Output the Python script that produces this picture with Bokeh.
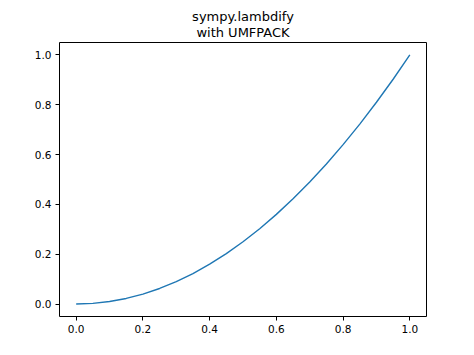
from bokeh.plotting import figure
from bokeh.models import Range1d, FixedTicker, PrintfTickFormatter, Title
from bokeh.embed import file_html
from bokeh.resources import INLINE

title_line1 = "sympy.lambdify"
title_line2 = "with UMFPACK"

x_values = [0.00, 0.05, 0.10, 0.15, 0.20, 0.25, 0.30, 0.35, 0.40, 0.45, 0.50,
            0.55, 0.60, 0.65, 0.70, 0.75, 0.80, 0.85, 0.90, 0.95, 1.00]
y_values = [0.0000, 0.0025, 0.0100, 0.0225, 0.0400, 0.0625, 0.0900, 0.1225, 0.1600, 0.2025, 0.2500,
            0.3025, 0.3600, 0.4225, 0.4900, 0.5625, 0.6400, 0.7225, 0.8100, 0.9025, 1.0000]
tick_values = [0.0, 0.2, 0.4, 0.6, 0.8, 1.0]

FONT = "DejaVu Sans"

p = figure(
    width=474, height=355,
    output_backend="svg", toolbar_location=None,
    x_range=Range1d(-0.05, 1.05), y_range=Range1d(-0.05, 1.05),
    title=None,
    min_border_left=59, min_border_right=48, min_border_top=42, min_border_bottom=39,
)
p.background_fill_color = "white"
p.border_fill_color = "white"
p.outline_line_color = "black"
p.outline_line_width = 1
p.xgrid.visible = False
p.ygrid.visible = False

for ax in (p.xaxis[0], p.yaxis[0]):
    ax.ticker = FixedTicker(ticks=tick_values)
    ax.formatter = PrintfTickFormatter(format="%.1f")
    ax.axis_line_color = None
    ax.major_tick_in = 0
    ax.major_tick_out = 4
    ax.major_tick_line_color = "black"
    ax.minor_tick_line_color = None
    ax.major_label_text_font = FONT
    ax.major_label_text_font_size = "10.5px"
    ax.major_label_text_color = "black"
    ax.major_label_standoff = 4

p.add_layout(Title(text=title_line2, align="center", text_font=FONT,
                   text_font_size="13px", text_font_style="normal",
                   text_color="black", text_line_height=1.0, standoff=5), "above")
p.add_layout(Title(text=title_line1, align="center", text_font=FONT,
                   text_font_size="13px", text_font_style="normal",
                   text_color="black", text_line_height=1.0, standoff=-6), "above")

p.line(x_values, y_values, line_color="#1f77b4", line_width=1.4)

open("out.html", "w").write(file_html(p, INLINE))
